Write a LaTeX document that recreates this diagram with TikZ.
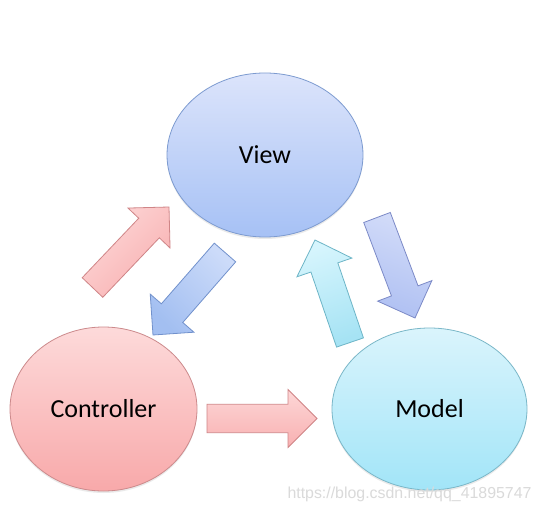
\documentclass[tikz,border=0pt]{standalone}
\usepackage{fontspec}
\setmainfont{Carlito}
\newfontfamily\wmfont{Liberation Sans}
\usetikzlibrary{shapes.geometric,calc,shadows}
\definecolor{viewtop}{HTML}{DCE4FB}
\definecolor{viewbot}{HTML}{A6C1F5}
\definecolor{viewedge}{HTML}{7D9BD0}
\definecolor{ctrltop}{HTML}{FDDADA}
\definecolor{ctrlbot}{HTML}{F8A9AA}
\definecolor{ctrledge}{HTML}{CC8A8C}
\definecolor{modtop}{HTML}{DAF4FC}
\definecolor{modbot}{HTML}{A2E5F8}
\definecolor{modedge}{HTML}{7AB7C8}
\definecolor{redtop}{HTML}{FDD7D7}
\definecolor{redbot}{HTML}{F8B0B1}
\definecolor{rededge}{HTML}{CF8587}
\definecolor{bluetop}{HTML}{CCDBF9}
\definecolor{bluebot}{HTML}{A3BFF1}
\definecolor{blueedge}{HTML}{7191CC}
\definecolor{cyantop}{HTML}{D6F5FD}
\definecolor{cyanbot}{HTML}{A6E3F4}
\definecolor{cyanedge}{HTML}{6DB5C7}
\definecolor{lavtop}{HTML}{D3DCF9}
\definecolor{lavbot}{HTML}{AFC0F2}
\definecolor{lavedge}{HTML}{7C8AC7}
\definecolor{wm}{HTML}{DADADA}
\newcommand\blockarrow[4]{%
  \coordinate (#1-t) at (#2);
  \coordinate (#1-p) at (#3);
  \coordinate (#1-b) at ($(#1-p)!29pt!(#1-t)$);
  \path[#4] ($(#1-t)!14.2pt!90:(#1-p)$) -- ($(#1-b)!14.2pt!90:(#1-p)$) --
    ($(#1-b)!29pt!90:(#1-p)$) -- (#1-p) -- ($(#1-b)!29pt!-90:(#1-p)$) --
    ($(#1-b)!14.2pt!-90:(#1-p)$) -- ($(#1-t)!14.2pt!-90:(#1-p)$) -- cycle;
}
\tikzset{
  bubble/.style={ellipse, inner sep=0pt, line width=0.8pt, text=black,
    font=\fontsize{26}{30}\selectfont,
    drop shadow={opacity=0.16, shadow xshift=0pt, shadow yshift=-2pt}},
  viewstyle/.style={bubble, draw=viewedge, top color=viewtop, bottom color=viewbot},
  ctrlstyle/.style={bubble, draw=ctrledge, top color=ctrltop, bottom color=ctrlbot},
  modstyle/.style={bubble, draw=modedge, top color=modtop, bottom color=modbot},
  barrow/.style={line width=0.8pt, line join=miter},
  redarrow/.style={barrow, draw=rededge, top color=redtop, bottom color=redbot, #1},
  bluearrow/.style={barrow, draw=blueedge, top color=bluetop, bottom color=bluebot, #1},
  cyanarrow/.style={barrow, draw=cyanedge, top color=cyantop, bottom color=cyanbot, #1},
  lavarrow/.style={barrow, draw=lavedge, top color=lavtop, bottom color=lavbot, #1},
}
\begin{document}
\begin{tikzpicture}[x=1pt, y=-1pt]
\useasboundingbox[fill=white] (0,0) rectangle (541,513);
\node[viewstyle, minimum width=196pt, minimum height=164pt] (view) at (265,155) {View};
\node[ctrlstyle, minimum width=187pt, minimum height=164pt] (ctrl) at (103.5,409) {Controller};
\node[modstyle, minimum width=195pt, minimum height=162pt] (model) at (429.5,409) {Model};
\blockarrow{a1}{92.5,287.5}{169,207}{redarrow={shading angle=45}}
\blockarrow{a2}{225,252.5}{153,335}{bluearrow={shading angle=-45}}
\blockarrow{a3}{350,342.5}{315,240}{cyanarrow={shading angle=20}}
\blockarrow{a4}{377,217.5}{415,318}{lavarrow={shading angle=-20}}
\blockarrow{a5}{207,418.5}{317,418.5}{redarrow={shading angle=0}}
\node[font=\wmfont\fontsize{15.9}{18}\selectfont, text=wm, inner sep=0pt] (wmark) at (409.5,494) {https://blog.csdn.net/qq\_41895747};
\end{tikzpicture}
\end{document}
